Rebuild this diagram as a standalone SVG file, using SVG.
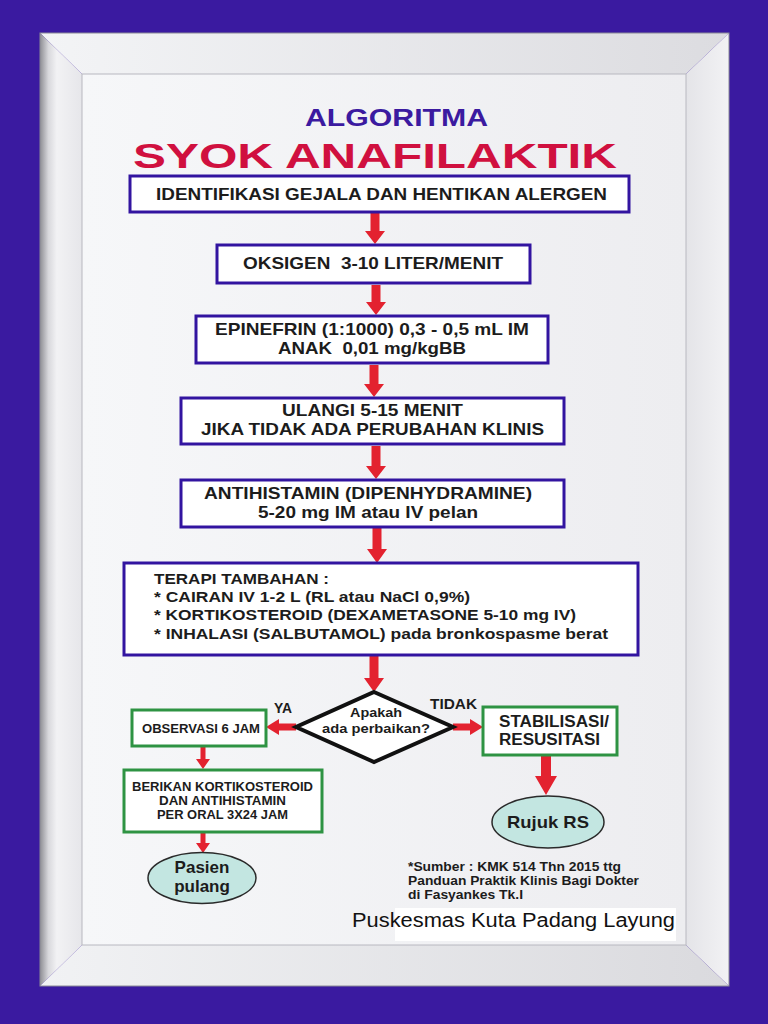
<svg xmlns="http://www.w3.org/2000/svg" width="768" height="1024" viewBox="0 0 768 1024">
<defs>
<linearGradient id="panel" x1="0" y1="0" x2="1" y2="0">
<stop offset="0" stop-color="#F6F7F9"/><stop offset="1" stop-color="#EDEDF0"/>
</linearGradient>
<linearGradient id="bevTop" x1="0" y1="0" x2="1" y2="0">
<stop offset="0" stop-color="#F3F4F6"/><stop offset="1" stop-color="#DCDCE0"/>
</linearGradient>
<linearGradient id="bevBot" x1="0" y1="0" x2="1" y2="0">
<stop offset="0" stop-color="#F1F2F4"/><stop offset="1" stop-color="#DADADE"/>
</linearGradient>
<linearGradient id="bevLeft" x1="0" y1="0" x2="1" y2="0">
<stop offset="0" stop-color="#8E8E94"/><stop offset="0.2" stop-color="#D8D8DC"/><stop offset="0.4" stop-color="#F2F2F4"/><stop offset="1" stop-color="#E6E6EA"/>
</linearGradient>
<linearGradient id="bevRight" x1="0" y1="0" x2="1" y2="0">
<stop offset="0" stop-color="#E4E4E8"/><stop offset="1" stop-color="#F2F2F4"/>
</linearGradient>
<style>
.t{font-family:"Liberation Sans",Arial,sans-serif;font-weight:bold;fill:#1C1C1C}
.c{text-anchor:middle}
.bb{fill:#FFFFFF;stroke:#3214A0;stroke-width:3}
.gb{fill:#FFFFFF;stroke:#2E9343;stroke-width:3}
.el{fill:#C3E6E1;stroke:#2A2A2A;stroke-width:1.5}
.ar{fill:#E3222F}
</style>
</defs>
<rect width="768" height="1024" fill="#3A1AA0"/>
<g id="frame">
<polygon points="40,33 729,33 686,74 82,74" fill="url(#bevTop)"/>
<polygon points="40,33 82,74 82,945 40,986" fill="url(#bevLeft)"/>
<polygon points="729,33 729,986 686,945 686,74" fill="url(#bevRight)"/>
<polygon points="40,986 82,945 686,945 729,986" fill="url(#bevBot)"/>
<rect x="40" y="33" width="689" height="953" fill="none" stroke="#8A8A96" stroke-width="1"/>
<rect x="82" y="74" width="604" height="871" fill="url(#panel)" stroke="#B8B8C0" stroke-width="1"/>
</g>
<g id="title">
<text class="t" x="305" y="126" font-size="23" textLength="183" lengthAdjust="spacingAndGlyphs" style="fill:#3B1AA0">ALGORITMA</text>
<text class="t" x="133" y="168" font-size="35" textLength="484" lengthAdjust="spacingAndGlyphs" style="fill:#D0103F">SYOK ANAFILAKTIK</text>
</g>
<g id="connectors">
<polygon class="ar" points="370.5,213 379.5,213 379.5,231 385,231 375,244 365,231 370.5,231"/>
<polygon class="ar" points="371.5,285 380.5,285 380.5,302 386,302 376,315 366,302 371.5,302"/>
<polygon class="ar" points="369.5,365 378.5,365 378.5,384 384,384 374,397 364,384 369.5,384"/>
<polygon class="ar" points="371.5,446 380.5,446 380.5,466 386,466 376,479 366,466 371.5,466"/>
<polygon class="ar" points="372.5,528 381.5,528 381.5,549 387,549 377,563 367,549 372.5,549"/>
<polygon class="ar" points="369.5,656 378.5,656 378.5,678 384,678 374,692 364,678 369.5,678"/>
<polygon class="ar" points="296,723.5 279,723.5 279,719 266,727 279,735 279,730.5 296,730.5"/>
<polygon class="ar" points="453,723.5 470,723.5 470,719 483,727 470,735 470,730.5 453,730.5"/>
<polygon class="ar" points="200.5,747 205.5,747 205.5,759 210,759 203,769 196,759 200.5,759"/>
<polygon class="ar" points="200.5,832 205.5,832 205.5,843 210,843 203,853 196,843 200.5,843"/>
<polygon class="ar" points="541,755 551,755 551,776 557,776 546,795 535,776 541,776"/>
</g>
<g id="n1">
<rect class="bb" x="130" y="176" width="499" height="36"/>
<text class="t" x="156" y="200" font-size="16.5" textLength="451" lengthAdjust="spacingAndGlyphs">IDENTIFIKASI GEJALA DAN HENTIKAN ALERGEN</text>
</g>
<g id="n2">
<rect class="bb" x="217" y="245" width="313" height="38"/>
<text class="t" x="243" y="269" font-size="16.5" textLength="260" lengthAdjust="spacingAndGlyphs" xml:space="preserve">OKSIGEN  3-10 LITER/MENIT</text>
</g>
<g id="n3">
<rect class="bb" x="196" y="316" width="352" height="47"/>
<text class="t" x="215" y="335" font-size="16.5" textLength="314" lengthAdjust="spacingAndGlyphs">EPINEFRIN (1:1000) 0,3 - 0,5 mL IM</text>
<text class="t" x="278" y="354" font-size="16.5" textLength="188" lengthAdjust="spacingAndGlyphs" xml:space="preserve">ANAK  0,01 mg/kgBB</text>
</g>
<g id="n4">
<rect class="bb" x="181" y="398" width="383" height="46"/>
<text class="t" x="282" y="416" font-size="16.5" textLength="181" lengthAdjust="spacingAndGlyphs">ULANGI 5-15 MENIT</text>
<text class="t" x="201" y="435" font-size="16.5" textLength="343" lengthAdjust="spacingAndGlyphs">JIKA TIDAK ADA PERUBAHAN KLINIS</text>
</g>
<g id="n5">
<rect class="bb" x="181" y="480" width="383" height="47"/>
<text class="t" x="204" y="499" font-size="16.5" textLength="328" lengthAdjust="spacingAndGlyphs">ANTIHISTAMIN (DIPENHYDRAMINE)</text>
<text class="t" x="258" y="518" font-size="16.5" textLength="220" lengthAdjust="spacingAndGlyphs">5-20 mg IM atau IV pelan</text>
</g>
<g id="n6">
<rect class="bb" x="124" y="563" width="514" height="92"/>
<text class="t" x="154" y="584" font-size="15.5" textLength="175" lengthAdjust="spacingAndGlyphs">TERAPI TAMBAHAN :</text>
<text class="t" x="154" y="602" font-size="15.5" textLength="316" lengthAdjust="spacingAndGlyphs">* CAIRAN IV 1-2 L (RL atau NaCl 0,9%)</text>
<text class="t" x="154" y="620" font-size="15.5" textLength="422" lengthAdjust="spacingAndGlyphs">* KORTIKOSTEROID (DEXAMETASONE 5-10 mg IV)</text>
<text class="t" x="154" y="639" font-size="15.5" textLength="454" lengthAdjust="spacingAndGlyphs">* INHALASI (SALBUTAMOL) pada bronkospasme berat</text>
</g>
<g id="decision">
<polygon points="374,692 453,727 374,762 296,727" fill="#FFFFFF" stroke="#111111" stroke-width="4" stroke-linejoin="miter"/>
<text class="t" x="350" y="717" font-size="13.5" textLength="52" lengthAdjust="spacingAndGlyphs">Apakah</text>
<text class="t" x="322" y="733" font-size="13.5" textLength="108" lengthAdjust="spacingAndGlyphs">ada perbaikan?</text>
<text class="t" x="274" y="713" font-size="14" textLength="18" lengthAdjust="spacingAndGlyphs">YA</text>
<text class="t" x="430" y="709" font-size="14" textLength="47" lengthAdjust="spacingAndGlyphs">TIDAK</text>
</g>
<g id="n7">
<rect class="gb" x="132" y="710" width="134" height="36"/>
<text class="t" x="142" y="733" font-size="12.5" textLength="118" lengthAdjust="spacingAndGlyphs">OBSERVASI 6 JAM</text>
</g>
<g id="n8">
<rect class="gb" x="483" y="707" width="134" height="48"/>
<text class="t" x="499" y="727" font-size="16" textLength="110" lengthAdjust="spacingAndGlyphs">STABILISASI/</text>
<text class="t" x="499" y="745" font-size="16" textLength="101" lengthAdjust="spacingAndGlyphs">RESUSITASI</text>
</g>
<g id="n9">
<rect class="gb" x="124" y="770" width="198" height="62"/>
<text class="t" x="132" y="791" font-size="12" textLength="181" lengthAdjust="spacingAndGlyphs">BERIKAN KORTIKOSTEROID</text>
<text class="t" x="159" y="805" font-size="12" textLength="127" lengthAdjust="spacingAndGlyphs">DAN ANTIHISTAMIN</text>
<text class="t" x="157" y="819" font-size="12" textLength="131" lengthAdjust="spacingAndGlyphs">PER ORAL 3X24 JAM</text>
</g>
<g id="n10">
<ellipse class="el" cx="202" cy="878" rx="54" ry="25.5"/>
<text class="t c" x="202" y="873" font-size="17">Pasien</text>
<text class="t c" x="202" y="892" font-size="17">pulang</text>
</g>
<g id="n11">
<ellipse class="el" cx="548" cy="822" rx="56" ry="26"/>
<text class="t" x="507" y="828" font-size="17" textLength="82" lengthAdjust="spacingAndGlyphs">Rujuk RS</text>
</g>
<g id="source">
<text class="t" x="408" y="871" font-size="12.5" textLength="213" lengthAdjust="spacingAndGlyphs">*Sumber : KMK 514 Thn 2015 ttg</text>
<text class="t" x="408" y="885" font-size="12.5" textLength="231" lengthAdjust="spacingAndGlyphs">Panduan Praktik Klinis Bagi Dokter</text>
<text class="t" x="408" y="899" font-size="12.5" textLength="115" lengthAdjust="spacingAndGlyphs">di Fasyankes Tk.I</text>
</g>
<g id="footer">
<rect x="395" y="908" width="281" height="33" fill="#FFFFFF"/>
<text x="352" y="927" font-family="'Liberation Sans',Arial,sans-serif" font-size="20" fill="#111111" textLength="323" lengthAdjust="spacingAndGlyphs">Puskesmas Kuta Padang Layung</text>
</g>
</svg>
